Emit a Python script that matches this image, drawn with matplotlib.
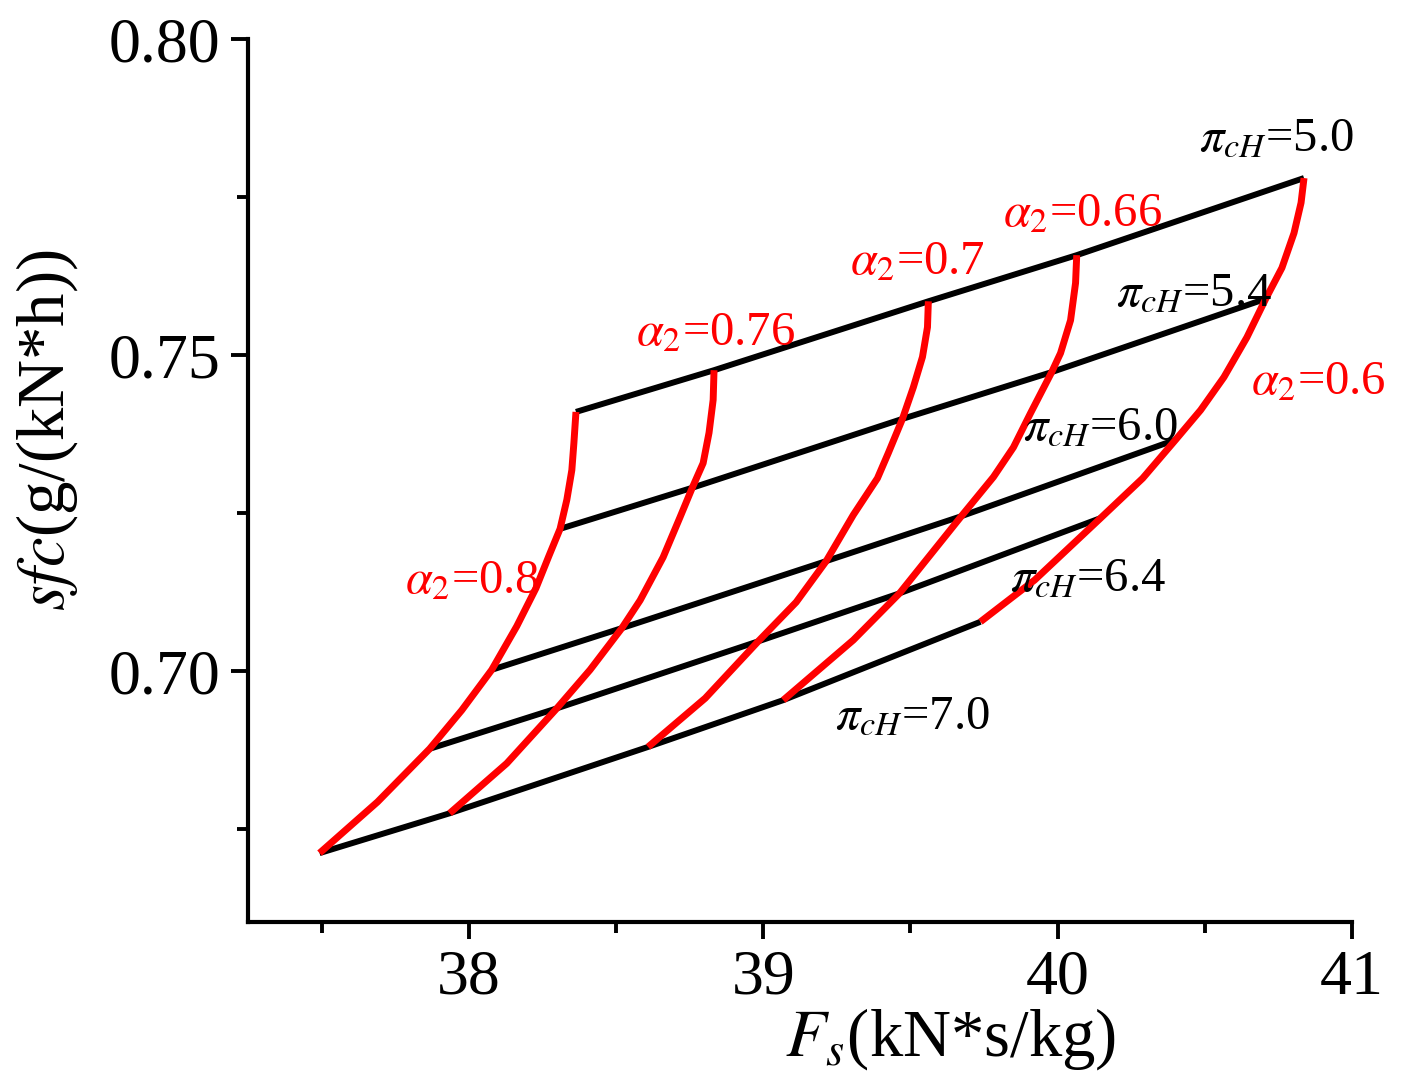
import numpy as np
import matplotlib
matplotlib.use("Agg")
import matplotlib.pyplot as plt
from matplotlib.ticker import MultipleLocator, FormatStrFormatter

plt.rcParams['font.family'] = ['Liberation Serif', 'DejaVu Serif']
plt.rcParams['mathtext.fontset'] = 'stix'

# --- data --------------------------------------------------------------
alpha2 = [0.8, 0.76, 0.7, 0.66, 0.6]
pi_ch = [5.0, 5.4, 6.0, 6.4, 7.0]

# constant pi_cH lines (points at alpha2 = 0.8 ... 0.6)
fs_pi50 = [38.364, 38.833, 39.561, 40.065, 40.837]
sfc_pi50 = [0.7410, 0.7476, 0.7585, 0.7658, 0.7780]
fs_pi54 = [38.310, 38.759, 39.473, 39.980, 40.707]
sfc_pi54 = [0.7225, 0.7290, 0.7399, 0.7473, 0.7589]
fs_pi60 = [38.078, 38.520, 39.214, 39.673, 40.401]
sfc_pi60 = [0.7002, 0.7068, 0.7174, 0.7245, 0.7366]
fs_pi64 = [37.867, 38.299, 38.983, 39.463, 40.146]
sfc_pi64 = [0.6877, 0.6941, 0.7047, 0.7123, 0.7242]
fs_pi70 = [37.493, 37.935, 38.609, 39.068, 39.738]
sfc_pi70 = [0.6712, 0.6775, 0.6880, 0.6954, 0.7078]

# constant alpha2 curves (from pi_cH = 5.0 down to 7.0)
fs_a80 = [38.364, 38.357, 38.350, 38.333, 38.310, 38.272, 38.228, 38.163,
          38.078, 37.976, 37.867, 37.690, 37.493]
sfc_a80 = [0.7410, 0.7361, 0.7318, 0.7271, 0.7225, 0.7182, 0.7131, 0.7071,
           0.7002, 0.6938, 0.6877, 0.6793, 0.6712]
fs_a76 = [38.833, 38.830, 38.816, 38.796, 38.759, 38.718, 38.660, 38.582,
          38.520, 38.412, 38.299, 38.129, 37.935]
sfc_a76 = [0.7476, 0.7429, 0.7377, 0.7329, 0.7290, 0.7244, 0.7180, 0.7112,
           0.7068, 0.7002, 0.6941, 0.6854, 0.6775]
fs_a70 = [39.561, 39.558, 39.541, 39.510, 39.473, 39.425, 39.388, 39.306,
          39.214, 39.112, 38.983, 38.803, 38.609]
sfc_a70 = [0.7585, 0.7544, 0.7497, 0.7449, 0.7399, 0.7345, 0.7305, 0.7247,
           0.7174, 0.7109, 0.7047, 0.6957, 0.6880]
fs_a66 = [40.065, 40.061, 40.044, 40.010, 39.980, 39.908, 39.850, 39.782,
          39.673, 39.568, 39.463, 39.306, 39.068]
sfc_a66 = [0.7658, 0.7614, 0.7555, 0.7503, 0.7473, 0.7408, 0.7354, 0.7307,
           0.7245, 0.7184, 0.7123, 0.7049, 0.6954]
fs_a60 = [40.837, 40.827, 40.803, 40.762, 40.707, 40.643, 40.565, 40.486,
          40.401, 40.289, 40.146, 39.922, 39.738]
sfc_a60 = [0.7780, 0.7741, 0.7693, 0.7638, 0.7589, 0.7528, 0.7465, 0.7413,
           0.7366, 0.7305, 0.7242, 0.7144, 0.7078]

# label anchors (left, baseline)
pi_lab_x = [40.480, 40.197, 39.881, 39.840, 39.245]
pi_lab_y = [0.7824, 0.7579, 0.7366, 0.7128, 0.6910]
a_lab_x = [37.782, 38.568, 39.296, 39.816, 40.656]
a_lab_y = [0.7123, 0.7516, 0.7627, 0.7703, 0.7437]
a_lab_txt = ['0.8', '0.76', '0.7', '0.66', '0.6']

# --- figure ---------------------------------------------------------------
fig = plt.figure(figsize=(14.1, 10.89), dpi=100)
ax = fig.add_axes([248 / 1410, 1 - 922 / 1089, 1104 / 1410, 883 / 1089])

black = [(fs_pi50, sfc_pi50), (fs_pi54, sfc_pi54), (fs_pi60, sfc_pi60),
         (fs_pi64, sfc_pi64), (fs_pi70, sfc_pi70)]
for xs, ys in black:
    ax.plot(xs, ys, color='black', lw=4.3, solid_capstyle='butt',
            solid_joinstyle='round', zorder=2)

red = [(fs_a80, sfc_a80), (fs_a76, sfc_a76), (fs_a70, sfc_a70),
       (fs_a66, sfc_a66), (fs_a60, sfc_a60)]
for xs, ys in red:
    ax.plot(xs, ys, color='#ff0000', lw=5.0, solid_capstyle='butt',
            solid_joinstyle='round', zorder=3)

for p, x, y in zip(pi_ch, pi_lab_x, pi_lab_y):
    ax.text(x, y, r'$\pi_{cH}$' + '=%.1f' % p, fontsize=35,
            ha='left', va='baseline', color='black', zorder=4)
for t, x, y in zip(a_lab_txt, a_lab_x, a_lab_y):
    ax.text(x, y, r'$\alpha_{2}$' + '=' + t, fontsize=35,
            ha='left', va='baseline', color='#ff0000', zorder=4)

ax.set_xlim(37.25, 41.0)
ax.set_ylim(0.6603, 0.80)
ax.xaxis.set_major_locator(MultipleLocator(1))
ax.xaxis.set_minor_locator(MultipleLocator(0.5))
ax.yaxis.set_major_locator(MultipleLocator(0.05))
ax.yaxis.set_minor_locator(MultipleLocator(0.025))
ax.xaxis.set_major_formatter(FormatStrFormatter('%d'))
ax.yaxis.set_major_formatter(FormatStrFormatter('%.2f'))

for s in ['top', 'right']:
    ax.spines[s].set_visible(False)
for s in ['left', 'bottom']:
    ax.spines[s].set_linewidth(3.0)

ax.tick_params(which='major', direction='out', length=12, width=2.8,
               labelsize=46, pad=8)
ax.tick_params(which='minor', direction='out', length=8, width=2.8)

ax.set_xlabel(r'$F_s$(kN*s/kg)', fontsize=48, va='center')
ax.set_ylabel(r'$sfc$(g/(kN*h))', fontsize=48, va='center')
ax.xaxis.set_label_coords(0.636, -0.132)
ax.yaxis.set_label_coords(-0.182, 0.557)

fig.savefig('out.png', dpi=100)
